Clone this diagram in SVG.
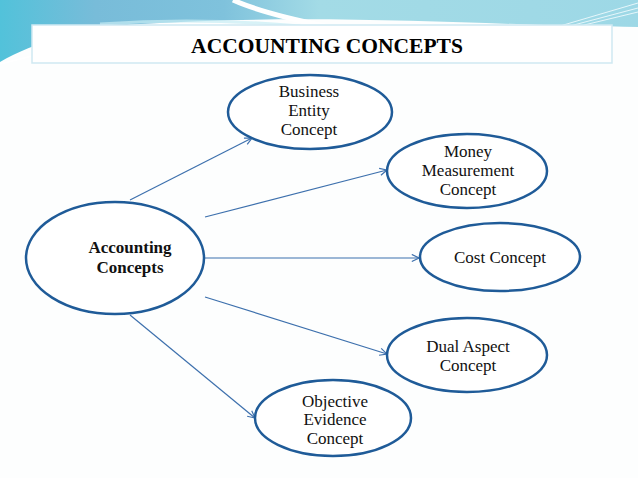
<svg xmlns="http://www.w3.org/2000/svg" width="638" height="478" viewBox="0 0 638 478">
<defs>
<linearGradient id="bg" x1="0" y1="0" x2="1" y2="0">
<stop offset="0" stop-color="#52c2da"/>
<stop offset="0.15" stop-color="#78bcd9"/>
<stop offset="0.35" stop-color="#7fc2dc"/>
<stop offset="0.5" stop-color="#a3dbe6"/>
<stop offset="1" stop-color="#9dd8e6"/>
</linearGradient>
<marker id="ah" viewBox="0 0 10 10" refX="9" refY="5" markerWidth="9" markerHeight="9" markerUnits="userSpaceOnUse" orient="auto">
<path d="M1,1 L9,5 L1,9" fill="none" stroke="#3d70ad" stroke-width="1.3"/>
</marker>
</defs>
<style>
.node ellipse{fill:#ffffff;stroke:#1f5b98;stroke-width:2.5}
.node text{font-family:"Liberation Serif","Times New Roman",serif;font-size:17px;fill:#111;text-anchor:middle}
.conn line{stroke:#3d70ad;stroke-width:1.2;marker-end:url(#ah)}
</style>
<rect width="638" height="478" fill="#fdfefe"/>
<g id="background">
<path d="M0,0 H638 V27 C520,27 330,12 140,24 C80,28 35,42 0,62 Z" fill="url(#bg)"/>
<path d="M233,0 C255,10 285,18 330,27" fill="none" stroke="#ffffff" stroke-width="5"/>
<path d="M100,24 C160,20 230,20 300,26" fill="none" stroke="#c8ecf4" stroke-width="3" opacity="0.7"/>
<path d="M0,64 L32,56" fill="none" stroke="#ffffff" stroke-width="1.5"/>
<path d="M560,26 L638,3 M570,26 L638,8 M580,26 L638,12" fill="none" stroke="#e6f6fa" stroke-width="1"/>
</g>
<g id="title">
<rect x="32" y="25" width="580" height="38" fill="#ffffff" stroke="#cfe9f2" stroke-width="1.5"/>
<text x="327" y="53" font-family="'Liberation Serif','Times New Roman',serif" font-size="21.5" font-weight="bold" fill="#000" text-anchor="middle">ACCOUNTING CONCEPTS</text>
</g>
<g id="connectors" class="conn">
<line x1="130" y1="200" x2="252" y2="138"/>
<line x1="205" y1="217" x2="387" y2="170"/>
<line x1="205" y1="258" x2="419" y2="258"/>
<line x1="205" y1="297" x2="387" y2="354"/>
<line x1="130" y1="315" x2="255" y2="418"/>
</g>
<g id="accounting-concepts" class="node">
<ellipse cx="115" cy="258" rx="89" ry="56"/>
<text x="130" y="253" font-weight="bold" font-size="18">Accounting</text>
<text x="130" y="273" font-weight="bold" font-size="18">Concepts</text>
</g>
<g id="business-entity" class="node">
<ellipse cx="310" cy="112" rx="82" ry="37"/>
<text x="309" y="97">Business</text>
<text x="309" y="116">Entity</text>
<text x="309" y="135">Concept</text>
</g>
<g id="money-measurement" class="node">
<ellipse cx="467" cy="171" rx="80" ry="37"/>
<text x="468" y="157">Money</text>
<text x="468" y="176">Measurement</text>
<text x="468" y="195">Concept</text>
</g>
<g id="cost-concept" class="node">
<ellipse cx="500" cy="257" rx="80" ry="34"/>
<text x="500" y="263">Cost Concept</text>
</g>
<g id="dual-aspect" class="node">
<ellipse cx="467" cy="355" rx="80" ry="37"/>
<text x="468" y="352">Dual Aspect</text>
<text x="468" y="371">Concept</text>
</g>
<g id="objective-evidence" class="node">
<ellipse cx="333" cy="418" rx="78" ry="38"/>
<text x="335" y="407">Objective</text>
<text x="335" y="425">Evidence</text>
<text x="335" y="444">Concept</text>
</g>
</svg>
